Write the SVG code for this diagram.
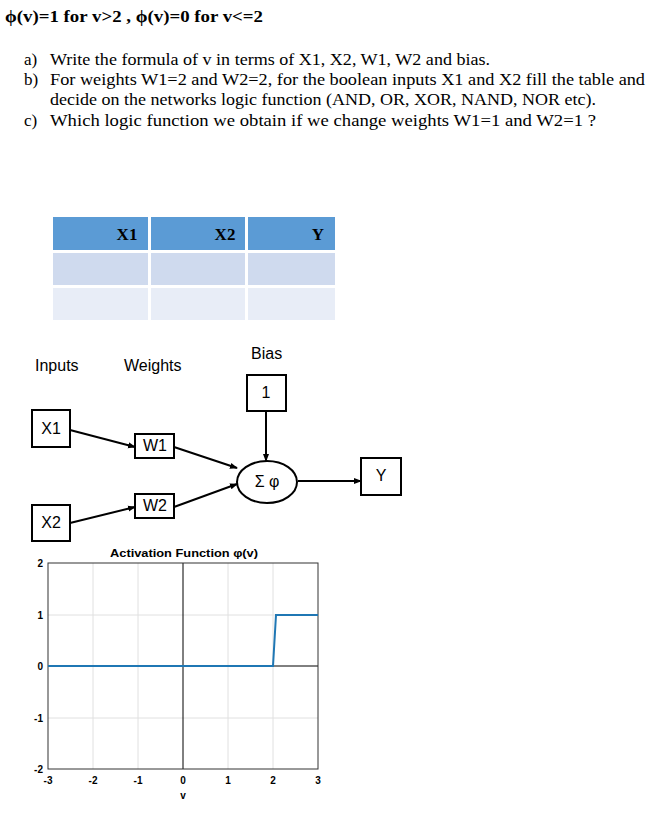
<svg xmlns="http://www.w3.org/2000/svg" width="663" height="815" viewBox="0 0 663 815">
<style>
.t{font-family:"Liberation Serif",serif;font-size:17px;fill:#000}
.s{font-family:"Liberation Sans",sans-serif;font-size:16px;fill:#000}
.b{fill:#fff;stroke:#000;stroke-width:2}
.c{stroke:#000;stroke-width:2;fill:none;marker-end:url(#a)}
.ax{font-family:"Liberation Sans",sans-serif;font-size:10px;font-weight:bold;fill:#000}
.g{stroke:#e0e0e0;stroke-width:1}
</style>
<defs><marker id="a" markerWidth="8" markerHeight="8" refX="7" refY="4" orient="auto" markerUnits="userSpaceOnUse"><path d="M0,1 L8,4 L0,7z" fill="#000"/></marker></defs>
<rect width="663" height="815" fill="#fff"/>
<text class="t" x="5" y="22" font-weight="bold" textLength="258" lengthAdjust="spacingAndGlyphs">ϕ(v)=1 for v&gt;2 , ϕ(v)=0 for v&lt;=2</text>
<text class="t" x="24" y="65">a)</text><text class="t" x="50" y="65" textLength="440" lengthAdjust="spacingAndGlyphs">Write the formula of v in terms of X1, X2, W1, W2 and bias.</text>
<text class="t" x="24" y="85">b)</text><text class="t" x="50" y="85" textLength="595" lengthAdjust="spacingAndGlyphs">For  weights W1=2 and W2=2,  for the boolean inputs X1 and X2 fill the table and</text>
<text class="t" x="50" y="105" textLength="546" lengthAdjust="spacingAndGlyphs">decide on the networks logic function (AND, OR, XOR, NAND, NOR etc).</text>
<text class="t" x="24" y="126">c)</text><text class="t" x="50" y="126" textLength="546" lengthAdjust="spacingAndGlyphs">Which logic  function we obtain if we change weights W1=1 and W2=1 ?</text>
<g id="table">
<rect x="53" y="217" width="95" height="33" fill="#5b9bd5"/><rect x="151" y="217" width="94" height="33" fill="#5b9bd5"/><rect x="248" y="217" width="87" height="33" fill="#5b9bd5"/>
<rect x="53" y="253" width="95" height="32" fill="#cfdaee"/><rect x="151" y="253" width="94" height="32" fill="#cfdaee"/><rect x="248" y="253" width="87" height="32" fill="#cfdaee"/>
<rect x="53" y="288" width="95" height="32" fill="#e8edf7"/><rect x="151" y="288" width="94" height="32" fill="#e8edf7"/><rect x="248" y="288" width="87" height="32" fill="#e8edf7"/>
<text class="t" x="127" y="240" text-anchor="middle" font-weight="bold">X1</text>
<text class="t" x="225" y="240" text-anchor="middle" font-weight="bold">X2</text>
<text class="t" x="318" y="240" text-anchor="middle" font-weight="bold">Y</text>
</g>
<text class="s" x="35" y="371">Inputs</text>
<text class="s" x="124" y="371">Weights</text>
<text class="s" x="251" y="359">Bias</text>
<g id="connectors">
<line class="c" x1="70" y1="430" x2="135" y2="447"/>
<line class="c" x1="70" y1="523" x2="135" y2="507"/>
<line class="c" x1="174" y1="447" x2="237" y2="468"/>
<line class="c" x1="174" y1="507" x2="237" y2="484"/>
<line class="c" x1="266" y1="411" x2="266" y2="461"/>
<line class="c" x1="298" y1="481" x2="361" y2="481"/>
</g>
<g id="x1"><rect class="b" x="32" y="410" width="38" height="37"/><text class="s" x="51" y="434" text-anchor="middle" font-size="14">X1</text></g>
<g id="x2"><rect class="b" x="32" y="505" width="38" height="36"/><text class="s" x="51" y="528" text-anchor="middle" font-size="14">X2</text></g>
<g id="w1"><rect class="b" x="135" y="434" width="39" height="24"/><text class="s" x="155" y="451" text-anchor="middle" font-size="14">W1</text></g>
<g id="w2"><rect class="b" x="135" y="494" width="39" height="24"/><text class="s" x="155" y="511" text-anchor="middle" font-size="14">W2</text></g>
<g id="bias"><rect class="b" x="247" y="375" width="39" height="36"/><text class="s" x="266" y="398" text-anchor="middle" font-size="14">1</text></g>
<g id="sum"><ellipse class="b" cx="267" cy="482" rx="30" ry="21"/><text class="s" x="267" y="487" text-anchor="middle" font-size="14">Σ φ</text></g>
<g id="y"><rect class="b" x="361" y="458" width="40" height="37"/><text class="s" x="381" y="481" text-anchor="middle" font-size="14">Y</text></g>
<g id="plot">
<g class="g"><line x1="93" y1="563" x2="93" y2="769"/><line x1="138" y1="563" x2="138" y2="769"/><line x1="228" y1="563" x2="228" y2="769"/><line x1="273" y1="563" x2="273" y2="769"/><line x1="48" y1="615" x2="318" y2="615"/><line x1="48" y1="718" x2="318" y2="718"/></g>
<line x1="183" y1="563" x2="183" y2="769" stroke="#000" stroke-width="1"/>
<line x1="48" y1="666" x2="318" y2="666" stroke="#000" stroke-width="1"/>
<rect x="48" y="563" width="270" height="206" fill="none" stroke="#333" stroke-width="1"/>
<polyline points="48,666 273,666 276,615 318,615" fill="none" stroke="#1f77b4" stroke-width="2"/>
<text class="ax" x="184" y="557" text-anchor="middle" font-size="12" textLength="148" lengthAdjust="spacingAndGlyphs">Activation Function φ(v)</text>
<g class="ax" text-anchor="end"><text x="43" y="567">2</text><text x="43" y="619">1</text><text x="43" y="670">0</text><text x="43" y="722">-1</text><text x="43" y="773">-2</text></g>
<g class="ax" text-anchor="middle"><text x="48" y="784">-3</text><text x="93" y="784">-2</text><text x="138" y="784">-1</text><text x="183" y="784">0</text><text x="228" y="784">1</text><text x="273" y="784">2</text><text x="318" y="784">3</text><text x="183" y="799">v</text></g>
</g>
</svg>
